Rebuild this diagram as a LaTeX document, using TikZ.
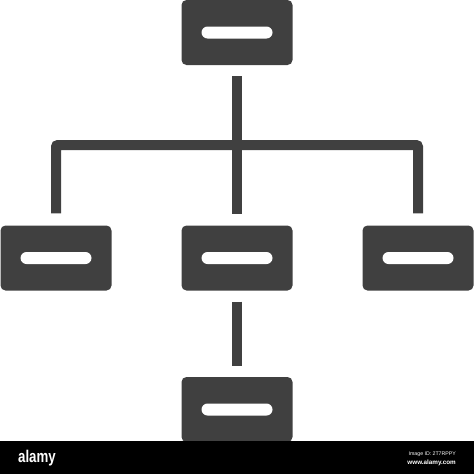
\documentclass[tikz,border=0pt]{standalone}
\usepackage{fontspec}
\setmainfont{Liberation Sans}
\definecolor{iconfill}{HTML}{404040}

\tikzset{
  orgbox/.style={fill=iconfill, rounded corners=5pt, minimum width=111pt, minimum height=65pt, inner sep=0pt,
    path picture={\fill[white, rounded corners=6pt] ([xshift=-35.5pt,yshift=-6pt]path picture bounding box.center) rectangle ([xshift=35.5pt,yshift=6pt]path picture bounding box.center);}},
  link/.style={draw=iconfill, line width=10pt, shorten <=11pt, shorten >=11pt}
}

\begin{document}
\begin{tikzpicture}[x=1pt, y=-1pt]
\useasboundingbox (0,0) rectangle (474,474);

\node[orgbox] (top) at (237,32.5) {};
\node[orgbox] (left) at (56,258) {};
\node[orgbox] (mid) at (237,258) {};
\node[orgbox] (right) at (418,258) {};
\node[orgbox] (bottom) at (237,409.5) {};
\coordinate (bus) at (237,145);

\draw[link] (top) -- (mid);
\draw[link] (mid) -- (bottom);
\draw[iconfill, line width=10pt, rounded corners=2pt] ([yshift=12pt]left.north) |- (bus) -| ([yshift=12pt]right.north);

% bottom strip
\fill[black] (0,441) rectangle (474,474);
\node[text=white, font=\bfseries\fontsize{17}{17}\selectfont, xscale=0.78, anchor=base west, inner sep=0pt] (logo) at (18,462) {alamy};
\node[text=white, font=\fontsize{5.2}{6}\selectfont, anchor=base east, inner sep=0pt] (imgid) at (456,455) {Image ID: 2T7RPPY};
\node[text=white, font=\bfseries\fontsize{6.3}{7}\selectfont, anchor=base east, inner sep=0pt] (site) at (456,464) {www.alamy.com};

\end{tikzpicture}
\end{document}
